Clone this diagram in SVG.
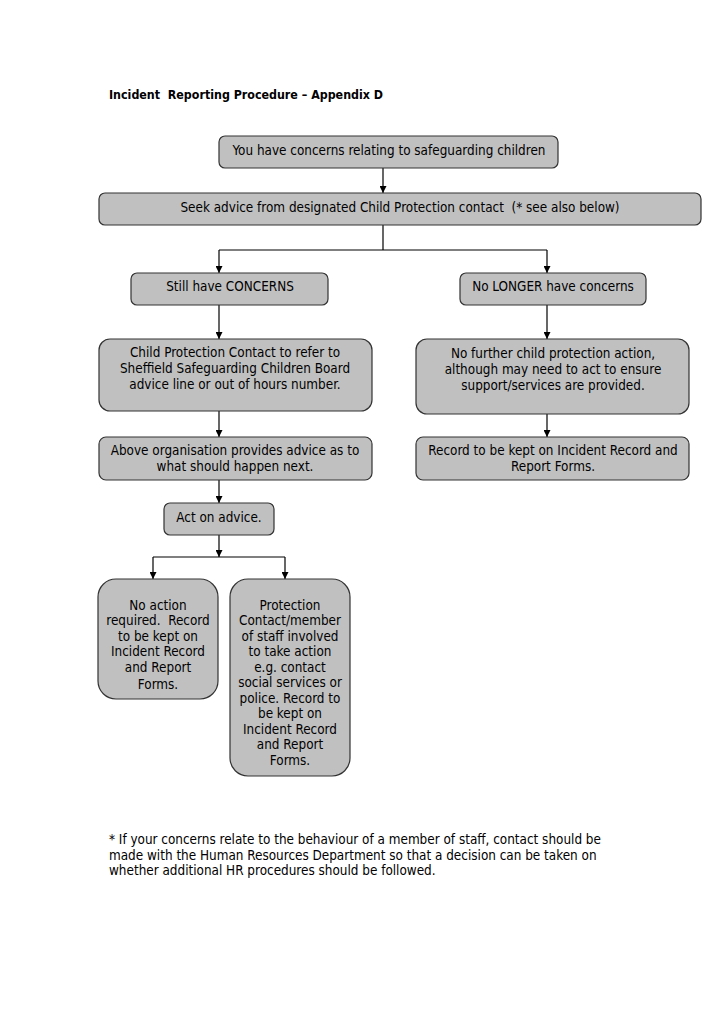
<svg xmlns="http://www.w3.org/2000/svg" width="725" height="1024" viewBox="0 0 725 1024">
<style>
text{font-family:"DejaVu Sans Condensed","DejaVu Sans",sans-serif;font-size:13.4px;fill:#000;white-space:pre}
.c{text-anchor:middle}
.b{font-weight:bold;font-size:13px}
.box{fill:#c0c0c0;stroke:#333;stroke-width:1.2}
.ln{fill:none;stroke:#000;stroke-width:1.2}
</style>
<defs>
<marker id="ah" viewBox="0 0 10 10" refX="10" refY="5" markerWidth="7" markerHeight="7" orient="auto" markerUnits="userSpaceOnUse">
<path d="M0,0L10,5L0,10z" fill="#000"/>
</marker>
</defs>
<rect width="725" height="1024" fill="#fff"/>
<text id="title" class="b" x="109" y="99" textLength="274" lengthAdjust="spacingAndGlyphs" xml:space="preserve">Incident  Reporting Procedure – Appendix D</text>
<g id="connectors">
<path class="ln" d="M383,168V193" marker-end="url(#ah)"/>
<path class="ln" d="M383,225V250"/>
<path class="ln" d="M219,250H547"/>
<path class="ln" d="M219,250V273" marker-end="url(#ah)"/>
<path class="ln" d="M547,250V273" marker-end="url(#ah)"/>
<path class="ln" d="M219,305V339" marker-end="url(#ah)"/>
<path class="ln" d="M547,305V339" marker-end="url(#ah)"/>
<path class="ln" d="M219,411V437" marker-end="url(#ah)"/>
<path class="ln" d="M547,414V437" marker-end="url(#ah)"/>
<path class="ln" d="M219,480V503" marker-end="url(#ah)"/>
<path class="ln" d="M219,535V557" marker-end="url(#ah)"/>
<path class="ln" d="M153,557H285"/>
<path class="ln" d="M153,557V579" marker-end="url(#ah)"/>
<path class="ln" d="M285,557V579" marker-end="url(#ah)"/>
</g>
<g id="n1"><rect class="box" x="219" y="136" width="339" height="32" rx="6"/><text class="c" x="389" y="155">You have concerns relating to safeguarding children</text></g>
<g id="n2"><rect class="box" x="99" y="193" width="602" height="32" rx="6"/><text class="c" x="400" y="212" xml:space="preserve">Seek advice from designated Child Protection contact  (* see also below)</text></g>
<g id="n3"><rect class="box" x="131" y="273" width="197" height="32" rx="6"/><text class="c" x="230" y="291">Still have CONCERNS</text></g>
<g id="n4"><rect class="box" x="460" y="273" width="186" height="32" rx="6"/><text class="c" x="553" y="291">No LONGER have concerns</text></g>
<g id="n5"><rect class="box" x="99" y="339" width="273" height="72" rx="11"/><text class="c" x="235" y="357">Child Protection Contact to refer to</text><text class="c" x="235" y="373">Sheffield Safeguarding Children Board</text><text class="c" x="235" y="389">advice line or out of hours number.</text></g>
<g id="n6"><rect class="box" x="416" y="339" width="273" height="75" rx="11"/><text class="c" x="553" y="358">No further child protection action,</text><text class="c" x="553" y="374">although may need to act to ensure</text><text class="c" x="553" y="390">support/services are provided.</text></g>
<g id="n7"><rect class="box" x="99" y="437" width="273" height="43" rx="7"/><text class="c" x="235" y="455">Above organisation provides advice as to</text><text class="c" x="235" y="471">what should happen next.</text></g>
<g id="n8"><rect class="box" x="416" y="437" width="273" height="43" rx="7"/><text class="c" x="553" y="455">Record to be kept on Incident Record and</text><text class="c" x="553" y="471">Report Forms.</text></g>
<g id="n9"><rect class="box" x="164" y="503" width="110" height="32" rx="6"/><text class="c" x="219" y="522">Act on advice.</text></g>
<g id="n10"><rect class="box" x="98" y="579" width="120" height="120" rx="18"/><text class="c" x="158" y="610">No action</text><text class="c" x="158" y="625" xml:space="preserve">required.  Record</text><text class="c" x="158" y="641">to be kept on</text><text class="c" x="158" y="656">Incident Record</text><text class="c" x="158" y="672">and Report</text><text class="c" x="158" y="689">Forms.</text></g>
<g id="n11"><rect class="box" x="230" y="579" width="120" height="197" rx="18"/><text class="c" x="290" y="610">Protection</text><text class="c" x="290" y="625">Contact/member</text><text class="c" x="290" y="641">of staff involved</text><text class="c" x="290" y="656">to take action</text><text class="c" x="290" y="672">e.g. contact</text><text class="c" x="290" y="687">social services or</text><text class="c" x="290" y="703">police. Record to</text><text class="c" x="290" y="718">be kept on</text><text class="c" x="290" y="734">Incident Record</text><text class="c" x="290" y="749">and Report</text><text class="c" x="290" y="765">Forms.</text></g>
<g id="footer"><text x="109" y="844">* If your concerns relate to the behaviour of a member of staff, contact should be</text><text x="109" y="860">made with the Human Resources Department so that a decision can be taken on</text><text x="109" y="875">whether additional HR procedures should be followed.</text></g>
</svg>
